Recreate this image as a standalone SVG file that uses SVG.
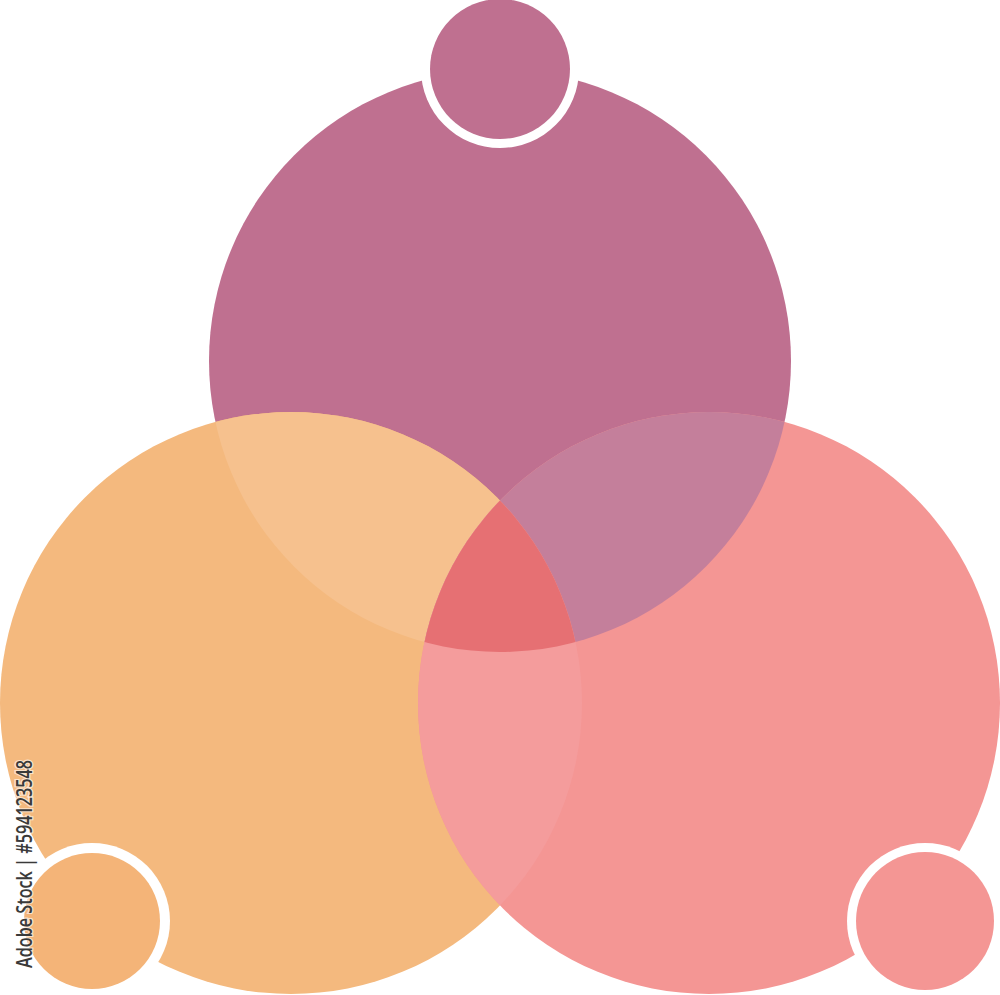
<svg xmlns="http://www.w3.org/2000/svg" width="1000" height="995" viewBox="0 0 1000 995">
  <style>
    .ring { fill: #FFFFFF; }
    .wm { font-family: "Open Sans", "DejaVu Sans", sans-serif; font-weight: 600; font-size: 22px; fill: #3A3A3A; }
  </style>
  <defs>
    <clipPath id="cTop"><circle cx="500" cy="361" r="291"/></clipPath>
    <clipPath id="cLeft"><circle cx="291" cy="703" r="291"/></clipPath>
    <clipPath id="cRight"><circle cx="709" cy="703" r="291"/></clipPath>
  </defs>
  <g id="circle-top"><circle cx="500" cy="361" r="291" fill="#BF7090"/></g>
  <g id="circle-left"><circle cx="291" cy="703" r="291" fill="#F4B97E"/></g>
  <g id="circle-right"><circle cx="709" cy="703" r="291" fill="#F49694"/></g>
  <g id="overlaps">
    <g clip-path="url(#cTop)"><circle cx="291" cy="703" r="291" fill="#F6C18E"/></g>
    <g clip-path="url(#cTop)"><circle cx="709" cy="703" r="291" fill="#C47F9B"/></g>
    <g clip-path="url(#cLeft)"><circle cx="709" cy="703" r="291" fill="#F49C9C"/></g>
    <g clip-path="url(#cTop)"><g clip-path="url(#cLeft)"><circle cx="709" cy="703" r="291" fill="#E67073"/></g></g>
  </g>
  <g id="badge-top">
    <circle class="ring" cx="500" cy="69" r="79"/>
    <circle cx="500" cy="69" r="70" fill="#BF7090"/>
  </g>
  <g id="badge-left">
    <circle class="ring" cx="92" cy="921" r="78"/>
    <circle cx="92" cy="921" r="68" fill="#F4B478"/>
  </g>
  <g id="badge-right">
    <circle class="ring" cx="925" cy="921" r="78"/>
    <circle cx="925" cy="921" r="69" fill="#F49694"/>
  </g>
  <g id="watermark">
    <text class="wm" transform="translate(32,968) rotate(-90)" textLength="208" lengthAdjust="spacingAndGlyphs" stroke="#FFFFFF" stroke-width="3" stroke-opacity="0.6" paint-order="stroke">Adobe Stock | #594123548</text>
  </g>
</svg>
